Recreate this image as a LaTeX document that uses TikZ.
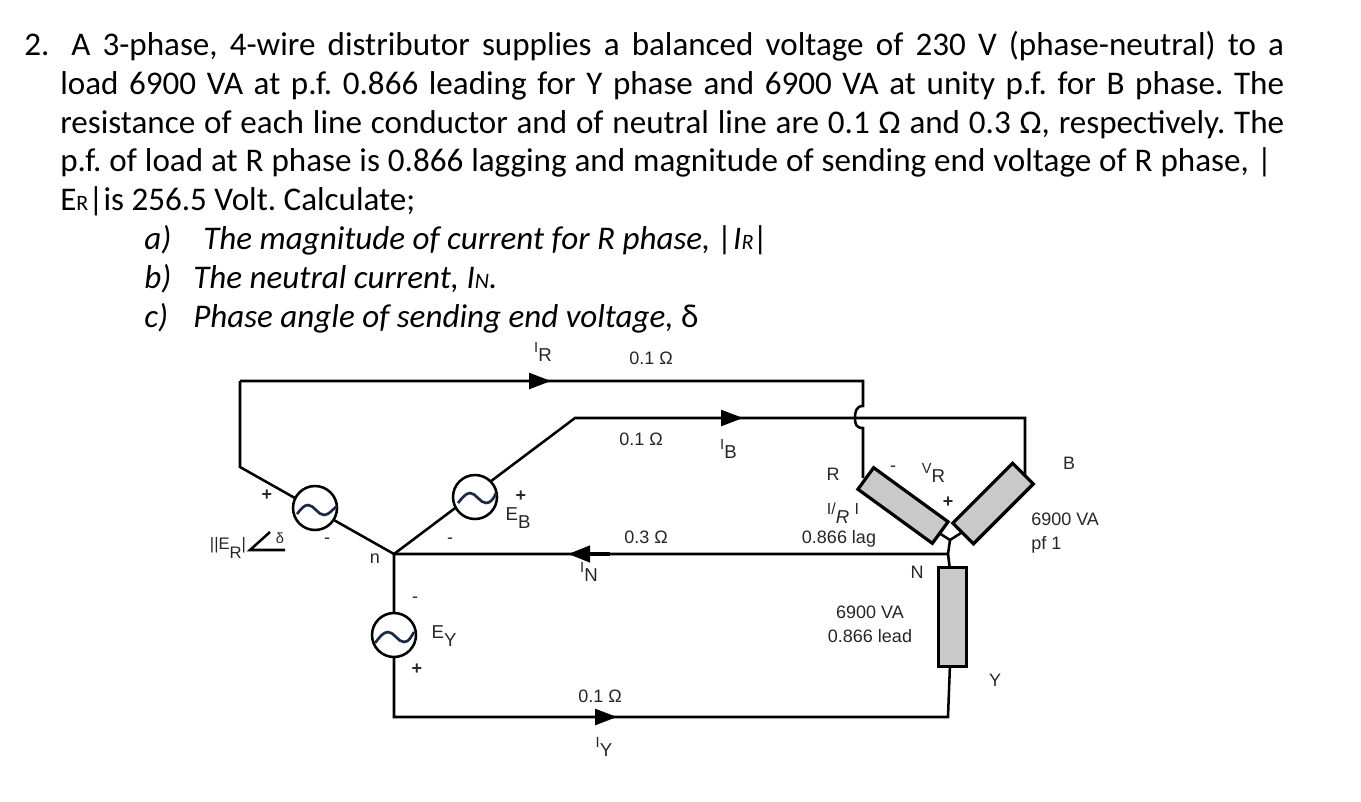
\documentclass[tikz,border=0pt]{standalone}
\usepackage{fontspec}
\setmainfont{Carlito}
\newfontfamily\dfont{Liberation Sans}
\usetikzlibrary{arrows.meta}
\definecolor{squigcol}{HTML}{1B2A44}
\newcommand{\lo}[1]{\raisebox{-6.4pt}{#1}}
\newcommand{\bigtext}{\fontsize{24.8}{30}\selectfont\frenchspacing}
\newcommand{\subtext}{\fontsize{16.5}{20}\selectfont}
\newcommand{\jl}[2]{\makebox[#1][s]{#2}}
\tikzset{
  wire/.style={draw=black,line width=1.9pt,line join=miter},
  arrowwire/.style={wire,-{Triangle[length=16.5pt,width=12pt]}},
  loadbox/.style={draw=black,line width=2.4pt,fill=black!21,inner sep=0pt},
  source/.style={circle,draw=black,line width=1.9pt,fill=white,minimum size=33pt,inner sep=0pt},
  squig/.style={draw=squigcol,line width=2pt,line join=round},
  body/.style={anchor=base west,inner sep=0pt,font=\bigtext},
  lab/.style={inner sep=0pt,font=\dfont\fontsize{13.5}{15}\selectfont,text=black!85},
  biglab/.style={inner sep=0pt,font=\dfont\fontsize{14}{16}\selectfont,text=black!85}
}
\begin{document}
\begin{tikzpicture}[x=0.75pt,y=-0.75pt]
\useasboundingbox (0,0) rectangle (1361,801);
% question text
\node[body] (t0) at (24,55) {2.};
\node[body] (t1) at (71,55) {\jl{909.7pt}{A 3-phase, 4-wire distributor supplies a balanced voltage of 230 V (phase-neutral) to a}};
\node[body] (t2) at (60,94) {\jl{918pt}{load 6900 VA at p.f. 0.866 leading for Y phase and 6900 VA at unity p.f. for B phase. The}};
\node[body] (t3) at (60,133) {\jl{918pt}{resistance of each line conductor and of neutral line are 0.1 Ω and 0.3 Ω, respectively. The}};
\node[body] (t4) at (60,171) {\jl{909pt}{p.f. of load at R phase is 0.866 lagging and magnitude of sending end voltage of R phase, |}};
\node[body] (t5) at (60,210) {E{\subtext R}|is 256.5 Volt. Calculate;};
\node[body] (a0) at (144,249) {\itshape a)};
\node[body] (a1) at (203,249) {\itshape The magnitude of current for R phase, |I{\subtext R}|};
\node[body] (b0) at (144,288) {\itshape b)};
\node[body] (b1) at (193,288) {\itshape The neutral current, I{\subtext N}.};
\node[body] (c0) at (144,327) {\itshape c)};
\node[body] (c1) at (193,327) {\itshape Phase angle of sending end voltage, {\upshape δ}};
% points
\coordinate (n) at (394,554);
\coordinate (rc) at (240,467);
\coordinate (rt) at (240,381);
\coordinate (ra) at (551,381);
\coordinate (rtr) at (863,381);
\coordinate (j1) at (863,406);
\coordinate (j2) at (863,428);
\coordinate (bk) at (575,418);
\coordinate (ba) at (743,418);
\coordinate (btr) at (1025,418);
\coordinate (nj) at (950,540);
\coordinate (nk) at (948,554);
\coordinate (na) at (568,554);
\coordinate (nb) at (610,554);
\coordinate (yk) at (948,717);
\coordinate (ya) at (617,717);
\coordinate (yl) at (394,717);
% wires below the parts
\draw[wire] (rt) -- (rtr) -- (j1) .. controls (856,406) and (855,412) .. (855,418) .. controls (855,424) and (856,428) .. (j2) -- (863,478);
\draw[wire] (n) -- (rc) -- (rt);
\draw[wire] (n) -- (bk) -- (btr) -- (1025,478);
\draw[wire] (n) -- (nk) -- (nj);
\draw[wire] (nk) -- (950,570);
\draw[wire] (n) -- (yl) -- (yk) -- (950,664);
\draw[arrowwire] (rt) -- (ra);
\draw[arrowwire] (bk) -- (ba);
\draw[arrowwire,line width=3pt] (nb) -- (na);
\draw[arrowwire] (yl) -- (ya);
\draw[wire] (nj) -- (939,533);
\draw[wire] (nj) -- (961,533);
% loads
\node[loadbox,rotate=-36,minimum width=69pt,minimum height=20pt] (lr) at (903,505.5) {};
\node[loadbox,rotate=45,minimum width=63.5pt,minimum height=22pt] (lb) at (993,503.5) {};
\node[loadbox,minimum width=21pt,minimum height=74pt] (ly) at (952.5,617) {};
% sources
\node[source] (sr) at (315,508) {};
\node[source] (sb) at (475,497) {};
\node[source] (sy) at (394,635) {};
\draw[squig] (297,514) .. controls (301,509) and (304,505) .. (308,505) .. controls (314,505) and (318,515) .. (324,515) .. controls (329,515) and (333,509) .. (337,506);
\draw[squig] (458,503) .. controls (462,498) and (466,493) .. (470,493) .. controls (476,493) and (480,503) .. (486,503) .. controls (491,503) and (494,498) .. (496,493);
\draw[squig] (375,643) .. controls (379,638) and (383,632) .. (388,632) .. controls (394,632) and (398,642) .. (404,642) .. controls (409,642) and (411,637) .. (414,632);
% angle
\coordinate (ang1) at (285,550);
\coordinate (ang2) at (250,550);
\coordinate (ang3) at (270,532);
\draw[wire] (ang1) -- (ang2) -- (ang3);
% diagram labels
\node[biglab] (lIR) at (543,352) {\fontsize{11}{13}\selectfont I\lo{\fontsize{14}{16}\selectfont R}};
\node[lab] (o1) at (651,358) {0.1 Ω};
\node[lab] (o2) at (641,439) {0.1 Ω};
\node[biglab] (lIB) at (728.5,449) {\fontsize{11}{13}\selectfont I\lo{\fontsize{14}{16}\selectfont B}};
\node[lab] (lR) at (833,474) {R};
\node[lab] (lm1) at (893,469) {-};
\node[biglab] (lVR) at (933.5,473) {\fontsize{11}{13}\selectfont V\lo{\fontsize{14}{16}\selectfont R}};
\node[lab] (lp1) at (948,502) {\bfseries +};
\node[lab] (lB) at (1069,463) {B};
\node[biglab] (lIRa) at (843,513) {\fontsize{12}{13}\selectfont I/\lo{\itshape\fontsize{14}{16}\selectfont R}\,\,\fontsize{12}{13}\selectfont I};
\node[lab] (lag) at (839,539) {0.866 lag};
\node[lab,align=left,anchor=west] (pf) at (1031,533) {6900 VA\\[3pt]pf 1};
\node[lab] (o3) at (646,537) {0.3 Ω};
\node[biglab] (lIN) at (589,572) {\fontsize{11}{13}\selectfont I\lo{\fontsize{14}{16}\selectfont N}};
\node[lab] (lN) at (917,572) {N};
\node[lab] (ln) at (375,559) {n};
\node[lab,font=\dfont\fontsize{12.5}{15}\selectfont] (lEr) at (228,548) {||E\lo{R}|};
\node[lab] (ld) at (280,538) {\fontsize{11}{13}\selectfont δ};
\node[lab] (lp2) at (267,495) {\bfseries +};
\node[lab] (lm2) at (327,541) {-};
\node[lab] (lp3) at (521,496) {\bfseries +};
\node[biglab] (lEB) at (518,518) {\fontsize{14}{16}\selectfont E\lo{B}};
\node[lab] (lm3) at (450,541) {-};
\node[lab] (lm4) at (415,600) {-};
\node[biglab] (lEY) at (444,636) {\fontsize{14}{16}\selectfont E\lo{Y}};
\node[lab] (lp4) at (417,669) {\bfseries +};
\node[lab,align=center] (lead) at (870,624) {6900 VA\\[3pt]0.866 lead};
\node[lab] (lY) at (995,680) {Y};
\node[lab] (o4) at (600,696) {0.1 Ω};
\node[biglab] (lIY) at (604,747) {\fontsize{11}{13}\selectfont I\lo{\fontsize{14}{16}\selectfont Y}};
\end{tikzpicture}
\end{document}
